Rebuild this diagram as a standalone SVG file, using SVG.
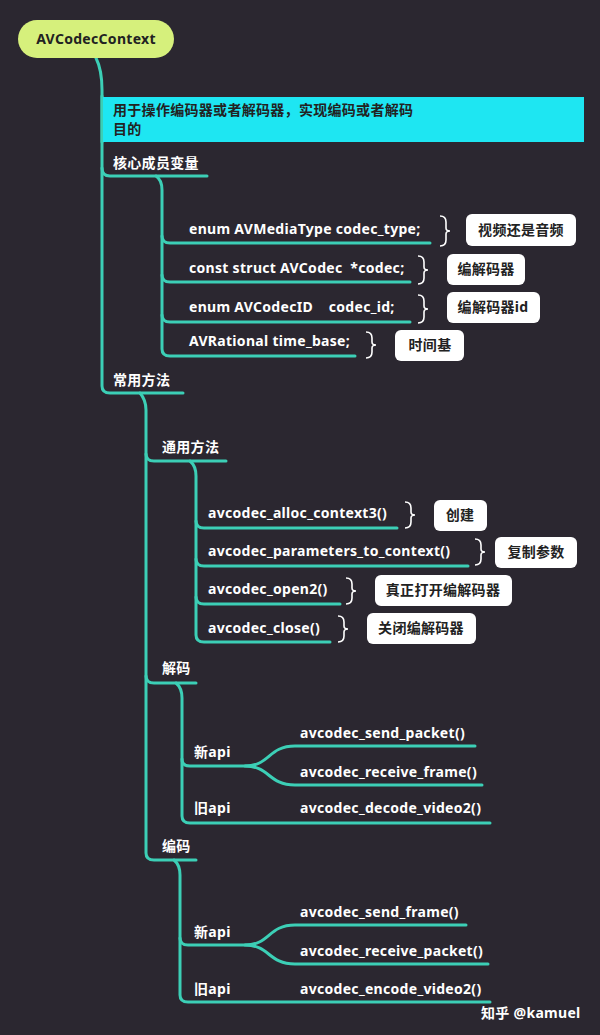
<svg xmlns="http://www.w3.org/2000/svg" width="600" height="1035" viewBox="0 0 600 1035">
<style>
.l{fill:none;stroke:#3ccfb6;stroke-width:3;stroke-linecap:round}
.b{fill:none;stroke:#ffffff;stroke-width:1.6}
text{font-family:"Noto Sans","Noto Sans CJK SC",sans-serif;font-size:14px;letter-spacing:0.3px;font-weight:700;fill:#ffffff;white-space:pre}
.d{fill:#222}
.box{fill:#ffffff}
</style>
<rect width="600" height="1035" fill="#2b2730"/>
<g id="connectors">
<path class="l" d="M96 58 Q102 70 102 90 V386 Q102 393 110 393 H183"/>
<path class="l" d="M102 96 V142"/>
<path class="l" d="M102 168 Q102 176 110 176 H207"/>
<path class="l" d="M156 176 Q162 180 162 190 V236 Q162 243 170 243 H430"/>
<path class="l" d="M162 236 V275 Q162 282 170 282 H410"/>
<path class="l" d="M162 275 V315 Q162 322 170 322 H410"/>
<path class="l" d="M162 315 V349 Q162 356 170 356 H355"/>
<path class="l" d="M140 393 Q146 400 146 410 V853 Q146 860 154 860 H196"/>
<path class="l" d="M146 454 Q146 461 154 461 H226"/>
<path class="l" d="M146 676 Q146 683 154 683 H196"/>
<path class="l" d="M190 461 Q196 466 196 476 V521 Q196 528 204 528 H397"/>
<path class="l" d="M196 521 V559 Q196 566 204 566 H468"/>
<path class="l" d="M196 559 V597 Q196 604 204 604 H340"/>
<path class="l" d="M196 597 V635 Q196 642 204 642 H330"/>
<path class="l" d="M176 683 Q182 688 182 698 V759 Q182 766 190 766 H245 C270 766 268 746 295 746 H475"/>
<path class="l" d="M245 766 C270 766 268 785 295 785 H482"/>
<path class="l" d="M182 759 V816 Q182 823 190 823 H490"/>
<path class="l" d="M174 860 Q180 865 180 875 V938 Q180 945 188 945 H245 C270 945 268 925 295 925 H466"/>
<path class="l" d="M245 945 C270 945 268 964 295 964 H488"/>
<path class="l" d="M180 938 V995 Q180 1002 188 1002 H490"/>
</g>
<g id="root"><rect x="18" y="20" width="156" height="38" rx="19" fill="#d6f07c"/><text x="96" y="44" text-anchor="middle" class="d" font-size="15">AVCodecContext</text></g>
<g id="desc"><rect x="103" y="97" width="481" height="45" fill="#1ee6f2"/><text x="113" y="115" class="d">用于操作编码器或者解码器，实现编码或者解码</text><text x="113" y="134" class="d">目的</text></g>
<g id="core"><text x="113" y="168">核心成员变量</text></g>
<g id="m1"><text x="189" y="234">enum AVMediaType codec_type;</text><path class="b" d="M440 216 q6 0 6 6 v6 q0 3 4 3 q-4 0 -4 3 v6 q0 6 -6 6"/><rect class="box" x="466" y="214" width="110" height="32" rx="6"/><text x="521" y="235" text-anchor="middle" class="d">视频还是音频</text></g>
<g id="m2"><text x="189" y="273">const struct AVCodec  *codec;</text><path class="b" d="M418 256 q6 0 6 6 v5 q0 3 4 3 q-4 0 -4 3 v5 q0 6 -6 6"/><rect class="box" x="447" y="254" width="78" height="31" rx="6"/><text x="486" y="274" text-anchor="middle" class="d">编解码器</text></g>
<g id="m3"><text x="189" y="312">enum AVCodecID    codec_id;</text><path class="b" d="M418 295 q6 0 6 6 v5 q0 3 4 3 q-4 0 -4 3 v5 q0 6 -6 6"/><rect class="box" x="447" y="292" width="93" height="31" rx="6"/><text x="493" y="312" text-anchor="middle" class="d">编解码器id</text></g>
<g id="m4"><text x="189" y="346">AVRational time_base;</text><path class="b" d="M366 332 q6 0 6 6 v4 q0 3 4 3 q-4 0 -4 3 v4 q0 6 -6 6"/><rect class="box" x="395" y="330" width="69" height="31" rx="6"/><text x="430" y="350" text-anchor="middle" class="d">时间基</text></g>
<g id="methods"><text x="113" y="385">常用方法</text></g>
<g id="common"><text x="162" y="452">通用方法</text></g>
<g id="f1"><text x="208" y="518">avcodec_alloc_context3()</text><path class="b" d="M405 502 q6 0 6 6 v4 q0 3 4 3 q-4 0 -4 3 v4 q0 6 -6 6"/><rect class="box" x="434" y="500" width="53" height="31" rx="6"/><text x="460" y="520" text-anchor="middle" class="d">创建</text></g>
<g id="f2"><text x="208" y="556">avcodec_parameters_to_context()</text><path class="b" d="M475 539 q6 0 6 6 v4 q0 3 4 3 q-4 0 -4 3 v4 q0 6 -6 6"/><rect class="box" x="495" y="537" width="82" height="31" rx="6"/><text x="536" y="557" text-anchor="middle" class="d">复制参数</text></g>
<g id="f3"><text x="208" y="594">avcodec_open2()</text><path class="b" d="M346 578 q6 0 6 6 v4 q0 3 4 3 q-4 0 -4 3 v4 q0 6 -6 6"/><rect class="box" x="375" y="575" width="137" height="31" rx="6"/><text x="443" y="595" text-anchor="middle" class="d">真正打开编解码器</text></g>
<g id="f4"><text x="208" y="633">avcodec_close()</text><path class="b" d="M338 616 q6 0 6 6 v4 q0 3 4 3 q-4 0 -4 3 v4 q0 6 -6 6"/><rect class="box" x="367" y="613" width="109" height="31" rx="6"/><text x="421" y="633" text-anchor="middle" class="d">关闭编解码器</text></g>
<g id="decode"><text x="162" y="673">解码</text></g>
<g id="dnew"><text x="194" y="757">新api</text><text x="300" y="738">avcodec_send_packet()</text><text x="300" y="777">avcodec_receive_frame()</text></g>
<g id="dold"><text x="194" y="813">旧api</text><text x="300" y="813">avcodec_decode_video2()</text></g>
<g id="encode"><text x="162" y="851">编码</text></g>
<g id="enew"><text x="194" y="937">新api</text><text x="300" y="917">avcodec_send_frame()</text><text x="300" y="956">avcodec_receive_packet()</text></g>
<g id="eold"><text x="194" y="994">旧api</text><text x="300" y="994">avcodec_encode_video2()</text></g>
<text x="481" y="1018" font-size="16" font-weight="400" fill="#e8e8e8">知乎 @kamuel</text>
</svg>
